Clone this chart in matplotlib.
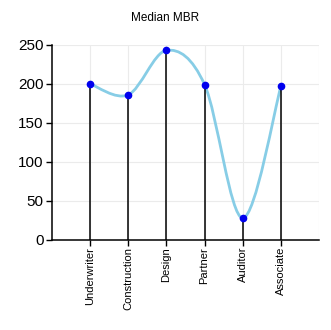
import matplotlib
matplotlib.use('Agg')
import matplotlib.pyplot as plt
from matplotlib.path import Path
from matplotlib.patches import PathPatch
import numpy as np

# Median MBR per role
roles = ['Underwriter', 'Construction', 'Design', 'Partner', 'Auditor', 'Associate']
median_mbr = [200, 186, 243, 199, 28, 197]

plt.rcParams['font.family'] = ['Liberation Sans', 'DejaVu Sans']

fig = plt.figure(figsize=(3.31, 3.30), dpi=100)
ax = fig.add_axes([0.157, 0.273, 0.807, 0.591])

x = np.arange(1, len(roles) + 1)
y = np.array(median_mbr, dtype=float)

# cardinal spline through the points, as cubic bezier segments
tension = 0.5
pts = np.column_stack([x, y])
verts = [tuple(pts[0])]
codes = [Path.MOVETO]
for i in range(len(pts) - 1):
    p_prev = pts[i - 1] if i > 0 else pts[i]
    p_next2 = pts[i + 2] if i + 2 < len(pts) else pts[i + 1]
    c1 = pts[i] + tension / 3 * (pts[i + 1] - p_prev)
    c2 = pts[i + 1] - tension / 3 * (p_next2 - pts[i])
    verts += [tuple(c1), tuple(c2), tuple(pts[i + 1])]
    codes += [Path.CURVE4] * 3
ax.add_patch(PathPatch(Path(verts, codes), facecolor='none',
                       edgecolor='#87cde6', linewidth=2.0, zorder=3))

ax.vlines(x, 0, y, colors='k', linewidth=1.1, zorder=4)
ax.plot(x, y, 'o', color='#0000ee', markersize=4.5, zorder=5)

ax.set_xlim(0, 7)
ax.set_ylim(0, 250)
ax.set_yticks([0, 50, 100, 150, 200, 250])
ax.set_xticks(x)
ax.set_xticklabels(roles, rotation=90, fontsize=8)
ax.tick_params(axis='y', labelsize=11, length=4, width=1, pad=2)
ax.tick_params(axis='x', length=4, width=1, pad=1)

ax.set_xticks([7], minor=True)
ax.tick_params(axis='x', which='minor', length=0)
ax.grid(True, which='both', color='#ebebeb', linewidth=0.8, zorder=0)
ax.set_axisbelow(True)

for s in ['top', 'right']:
    ax.spines[s].set_visible(False)
for s in ['left', 'bottom']:
    ax.spines[s].set_linewidth(1.1)

fig.text(0.5, 0.945, 'Median MBR', ha='center', va='center', fontsize=8.5)

fig.savefig('out.png', dpi=100)
